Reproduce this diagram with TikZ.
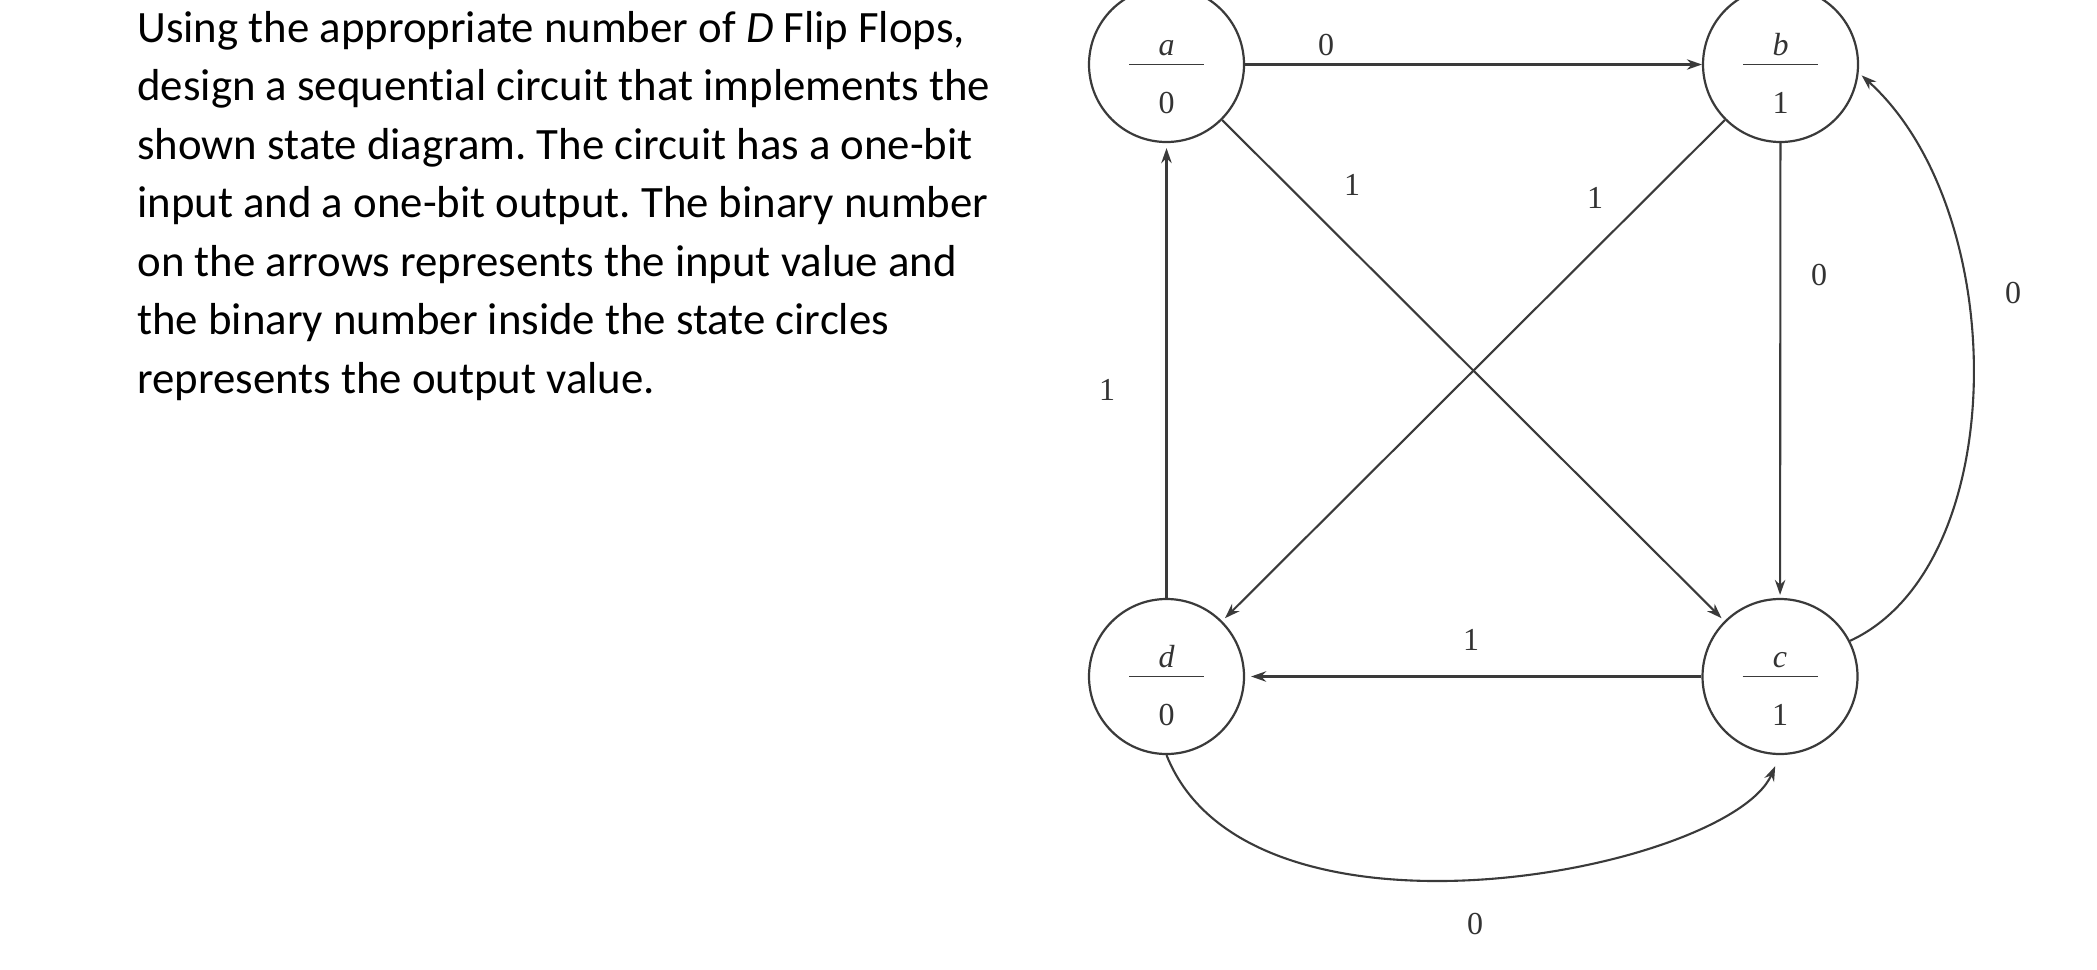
\documentclass[tikz,border=0pt]{standalone}
\usepackage{fontspec}
\setmainfont{Liberation Serif}
\newfontfamily\carlito[Ligatures={NoCommon}]{Carlito}
\usetikzlibrary{arrows.meta}
\definecolor{linegray}{HTML}{3a3a3a}
\definecolor{labgray}{HTML}{333333}
\frenchspacing
\begin{document}
\begin{tikzpicture}[x=0.5pt,y=-0.5pt,
  state/.style={circle,draw=linegray,line width=1.1pt,minimum size=77.5pt,inner sep=0pt},
  edge/.style={draw=linegray,line width=1.05pt,-{Stealth[length=7.5pt,width=5.2pt]}},
  lbl/.style={font=\fontsize{16}{16}\selectfont,text=labgray,inner sep=0pt,anchor=base},
  para/.style={font=\carlito\fontsize{22.4}{26}\selectfont,anchor=base west,inner sep=0pt}]
\fill[white] (0,0) rectangle (2097,969);
\useasboundingbox (0,0) rectangle (2097,969);

% paragraph
\node[para] (p1) at (137,42) {Using the appropriate number of \textit{D} Flip Flops,};
\node[para] (p2) at (137,100.5) {design a sequential circuit that implements the};
\node[para] (p3) at (137,159) {shown state diagram. The circuit has a one-bit};
\node[para] (p4) at (137,217.5) {input and a one-bit output. The binary number};
\node[para] (p5) at (137,276) {on the arrows represents the input value and};
\node[para] (p6) at (137,334.5) {the binary number inside the state circles};
\node[para] (p7) at (137,393) {represents the output value.};

% states
\node[state] (a) at (1166.5,64.5) {};
\node[state] (b) at (1780.5,64.5) {};
\node[state] (c) at (1780,676.5) {};
\node[state] (d) at (1166.5,676.5) {};
\foreach \s/\o in {a/0,b/1,c/1,d/0}{
  \draw[linegray,line width=0.9pt] ([xshift=-18.75pt]\s.center) -- ([xshift=18.75pt]\s.center);
  \node[lbl,font=\fontsize{16}{16}\selectfont\itshape] (\s-name) at ([yshift=4.75pt]\s.center) {\s};
  \node[lbl] (\s-out) at ([yshift=-24.5pt]\s.center) {\o};
}

% edges
\draw[edge] (a) -- (b);
\draw[edge,shorten >=1.5pt] (b) -- (c);
\draw[edge,shorten >=2.5pt] (d) -- (a);
\draw[edge,shorten >=3pt] (c) -- (d);
\draw[edge,shorten >=2pt] (a) -- (c);
\draw[edge,shorten >=2pt] (b) -- (d);
\draw[edge,shorten >=2pt] (c.27) .. controls (2012,566) and (2012,211) .. (b.-6);
\draw[edge,shorten >=6pt] (d.south) .. controls (1250,965) and (1730,870) .. (c.south);

% edge labels
\node[lbl] (l-ab) at (1326,55) {0};
\node[lbl] (l-ac) at (1352,195) {1};
\node[lbl] (l-bd) at (1595,208) {1};
\node[lbl] (l-bc) at (1819,285) {0};
\node[lbl] (l-cb) at (2013,303) {0};
\node[lbl] (l-da) at (1107,400) {1};
\node[lbl] (l-cd) at (1471,650) {1};
\node[lbl] (l-dc) at (1475,934) {0};
\end{tikzpicture}
\end{document}
